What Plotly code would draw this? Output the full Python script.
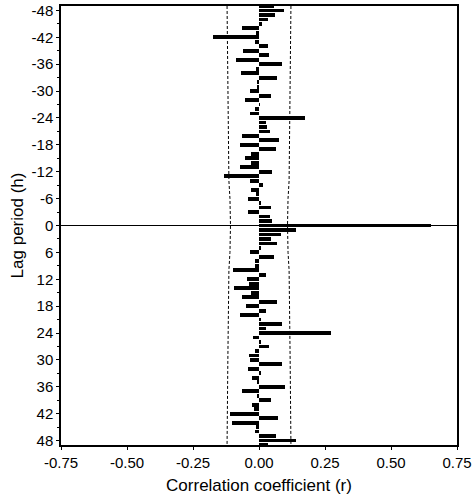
import plotly.graph_objects as go

# Lag periods (h) and cross-correlation coefficients
lags = list(range(-49, 50))
r_values = [
    0.057, 0.095, 0.060, 0.035, 0.011, -0.064, -0.011, -0.176, -0.014, 0.035,   # -49..-40
    -0.059, 0.039, -0.087, 0.087, -0.010, -0.068, 0.067, -0.008, -0.008, -0.034,  # -39..-30
    0.046, -0.053, 0.003, -0.014, -0.034, 0.176, 0.025, 0.030, 0.040, -0.066,   # -29..-20
    0.075, -0.072, 0.065, -0.032, -0.052, -0.030, -0.072, 0.050, -0.133, -0.036,  # -19..-10
    0.015, -0.030, -0.010, -0.043, 0.008, 0.045, -0.043, 0.040, 0.050,          # -9..-1
    0.650,                                                                      # 0
    0.139, 0.082, 0.044, 0.067, 0.006, -0.034, 0.057, -0.016, -0.016, -0.100,   # 1..10
    0.027, -0.047, -0.039, -0.095, -0.029, -0.064, 0.067, -0.049, 0.027, -0.072,  # 11..20
    0.008, 0.087, 0.027, 0.273, -0.021, 0.006, 0.039, -0.014, -0.039, -0.036,   # 21..30
    0.087, -0.043, 0.008, -0.025, -0.008, 0.097, -0.066, -0.008, 0.046, -0.025,  # 31..40
    -0.018, -0.110, 0.072, -0.102, -0.011, -0.014, 0.064, 0.140, 0.034,         # 41..49
]

# Confidence limits (dashed lines)
band_lags = [-49, -30, -10, -6, 0, 6, 10, 30, 49]
band_upper = [0.121, 0.118, 0.114, 0.110, 0.108, 0.110, 0.114, 0.118, 0.121]
band_lower = [-0.121, -0.118, -0.114, -0.110, -0.108, -0.110, -0.114, -0.118, -0.121]

x_ticks = [-0.75, -0.50, -0.25, 0.0, 0.25, 0.50, 0.75]
x_tick_labels = ["-0.75", "-0.50", "-0.25", "0.00", "0.25", "0.50", "0.75"]
y_ticks = [-48, -42, -36, -30, -24, -18, -12, -6, 0, 6, 12, 18, 24, 30, 36, 42, 48]
y_tick_labels = [str(v) for v in y_ticks]

font_family = "Arial, Liberation Sans, sans-serif"

fig = go.Figure()
fig.add_trace(go.Bar(
    x=r_values, y=lags, orientation="h",
    marker=dict(color="black", line=dict(width=0)),
    width=0.85, showlegend=False,
))
for band in (band_upper, band_lower):
    fig.add_trace(go.Scatter(
        x=band, y=band_lags, mode="lines",
        line=dict(color="black", width=1, dash="3px,2px"),
        showlegend=False, hoverinfo="skip",
    ))

fig.add_shape(type="line", xref="paper", x0=0, x1=1, yref="y", y0=0, y1=0,
              line=dict(color="black", width=1.2), layer="above")

fig.update_layout(
    width=474, height=503,
    margin=dict(l=61, r=16, t=2, b=58),
    paper_bgcolor="white", plot_bgcolor="white",
    font=dict(family=font_family, color="black", size=15),
    bargap=0,
    xaxis=dict(
        range=[-0.75, 0.75], tickvals=x_ticks, ticktext=x_tick_labels,
        ticks="outside", ticklen=3, tickcolor="black",
        showline=True, mirror=True, linecolor="black", linewidth=1.5,
        showgrid=False, zeroline=False,
        tickfont=dict(size=15), ticklabeloverflow="allow",
        title=dict(text="Correlation coefficient (r)", font=dict(size=17), standoff=9),
    ),
    yaxis=dict(
        range=[49, -49], tickvals=y_ticks, ticktext=y_tick_labels,
        ticks="outside", ticklen=3, tickcolor="black",
        minor=dict(tick0=-48, dtick=3, ticks="outside", ticklen=2, tickcolor="black"),
        showline=True, mirror=True, linecolor="black", linewidth=1.5,
        showgrid=False, zeroline=False,
        tickfont=dict(size=15), ticklabeloverflow="allow",
        title=dict(text="Lag period (h)", font=dict(size=17), standoff=4),
    ),
)

fig.write_html("out.html", config={"displayModeBar": False},
               post_script="document.body.style.margin='0';")
